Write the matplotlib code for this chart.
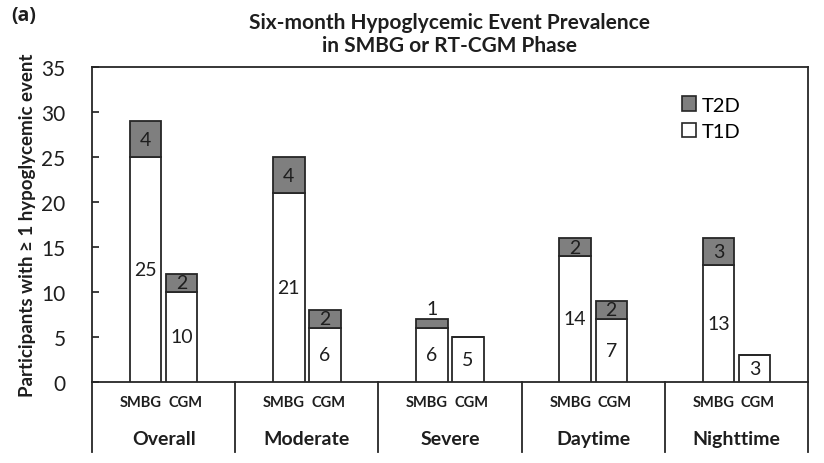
import matplotlib
matplotlib.use("Agg")
import matplotlib.pyplot as plt
import matplotlib.transforms as mtrans
from matplotlib.patches import Patch
import numpy as np

plt.rcParams['font.family'] = ['Lato', 'DejaVu Sans']

groups = ["Overall", "Moderate", "Severe", "Daytime", "Nighttime"]
phases = ["SMBG", "CGM"]
smbg_t1d = [25, 21, 6, 14, 13]
smbg_t2d = [4, 4, 1, 2, 3]
cgm_t1d = [10, 6, 5, 7, 3]
cgm_t2d = [2, 2, 0, 2, 0]

title = "Six-month Hypoglycemic Event Prevalence\nin SMBG or RT-CGM Phase"
ylabel = "Participants with \u2265 1 hypoglycemic event"

edge = "#262626"
gray = "#7f7f7f"
txt = "#1e1e1e"

fig = plt.figure(figsize=(8.24, 4.64), dpi=100)
ax = fig.add_axes([0.1117, 0.1746, 0.9806 - 0.1117, 0.8534 - 0.1746])

x = np.arange(len(groups)) + 0.5
off = 0.126
w = 0.22

for xs, t1, t2 in [(x - off, smbg_t1d, smbg_t2d), (x + off, cgm_t1d, cgm_t2d)]:
    ax.bar(xs, t1, width=w, color="white", edgecolor=edge, linewidth=1.3, zorder=3)
    ax.bar(xs, t2, width=w, bottom=t1, color=gray, edgecolor=edge, linewidth=1.3, zorder=3)
    for xi, a, b in zip(xs, t1, t2):
        ax.text(xi, a / 2, str(a), ha="center", va="center", fontsize=14, color=txt, zorder=4)
        if b > 0:
            if b >= 2:
                ax.text(xi, a + b / 2, str(b), ha="center", va="center", fontsize=14, color=txt, zorder=4)
            else:
                ax.text(xi, a + b + 0.25, str(b), ha="center", va="bottom", fontsize=14, color=txt, zorder=4)

ax.set_xlim(0, len(groups))
ax.set_ylim(0, 35)
ax.set_yticks(range(0, 36, 5))
ax.tick_params(axis="y", direction="in", length=5, width=1.2, labelsize=15, pad=19, colors=txt)
ax.set_xticks([])
for s in ax.spines.values():
    s.set_linewidth(1.3)
    s.set_color(edge)

trans = mtrans.blended_transform_factory(ax.transData, ax.transAxes)
for b in range(len(groups) + 1):
    ax.plot([b, b], [0, -0.222], transform=trans, color=edge, lw=1.3, clip_on=False)
for xi, g in zip(x, groups):
    ax.text(xi - 0.16, -0.063, phases[0], transform=trans, ha="center", va="center",
            fontsize=10.5, fontweight="bold", color=txt)
    ax.text(xi + 0.15, -0.063, phases[1], transform=trans, ha="center", va="center",
            fontsize=10.5, fontweight="bold", color=txt)
    ax.text(xi, -0.18, g, transform=trans, ha="center", va="center",
            fontsize=14, fontweight="bold", color=txt)

ax.set_ylabel(ylabel, fontsize=13.5, fontweight="bold", color=txt, labelpad=4)
fig.text(0.545, 0.925, title, ha="center", va="center", fontsize=15, fontweight="bold",
         color=txt, linespacing=1.2)
fig.text(0.014, 0.965, "(a)", ha="left", va="center", fontsize=14, fontweight="bold",
         color=txt, family=["Open Sans", "DejaVu Sans"])

handles = [Patch(facecolor=gray, edgecolor=edge, linewidth=1.2, label="T2D"),
           Patch(facecolor="white", edgecolor=edge, linewidth=1.2, label="T1D")]
ax.legend(handles=handles, loc="center left", bbox_to_anchor=(0.81, 0.838), frameon=False,
          fontsize=14.5, handlelength=0.7, handleheight=0.7, handletextpad=0.3,
          labelspacing=0.45, borderpad=0)

fig.savefig("out.png", dpi=100)
